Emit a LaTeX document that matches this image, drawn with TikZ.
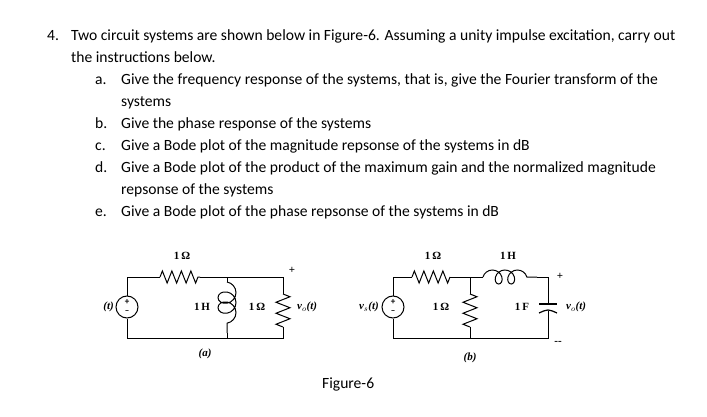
\documentclass[tikz,border=0pt]{standalone}
\usepackage{fontspec}
\setmainfont{Carlito}
\newfontfamily\cktfont{Liberation Serif}
\usetikzlibrary{decorations.pathmorphing}
\begin{document}
\begin{tikzpicture}[x=1pt,y=-1pt,
  txt/.style={anchor=base west,inner sep=0pt,font=\fontsize{15.6}{18}\selectfont},
  lbl/.style={inner sep=0pt,font=\cktfont\bfseries\fontsize{11}{12}\selectfont},
  sgn/.style={inner sep=0pt,font=\bfseries\fontsize{9}{9}\selectfont},
  wire/.style={line width=1pt},
  res/.style={wire,decorate,decoration={zigzag,segment length=9.5pt,amplitude=6pt}},
  resv/.style={wire,decorate,decoration={zigzag,segment length=11pt,amplitude=7pt}},
  inda/.style={wire,decorate,decoration={coil,aspect=0.9,segment length=10pt,amplitude=9pt}},
  indb/.style={wire,decorate,decoration={coil,aspect=0.9,segment length=12.5pt,amplitude=7pt}},
  src/.style={circle,draw,line width=1pt,minimum size=22pt,inner sep=0pt}]
\useasboundingbox (0,0) rectangle (707,417);
% text
\node[txt] (n4) at (47,41) {4.};
\node[txt] (l1) at (71,41) {Two circuit systems are shown below in Figure-6. Assuming a unity impulse excitation, carry out};
\node[txt] (l2) at (71,63) {the instructions below.};
\node[txt] (ia) at (95,85) {a.};
\node[txt] (ta) at (121,85) {Give the frequency response of the systems, that is, give the Fourier transform of the};
\node[txt] (ta2) at (121,107) {systems};
\node[txt] (ib) at (95,129) {b.};
\node[txt] (tb) at (121,129) {Give the phase response of the systems};
\node[txt] (ic) at (95,150) {c.};
\node[txt] (tc) at (121,150) {Give a Bode plot of the magnitude repsonse of the systems in dB};
\node[txt] (id) at (95,172) {d.};
\node[txt] (td) at (121,172) {Give a Bode plot of the product of the maximum gain and the normalized magnitude};
\node[txt] (td2) at (121,194) {repsonse of the systems};
\node[txt] (ie) at (95,216) {e.};
\node[txt] (te) at (121,216) {Give a Bode plot of the phase repsonse of the systems in dB};
\node[txt] (fig) at (322,388) {Figure-6};
% circuit (a)
\coordinate (aTL) at (127,277); \coordinate (aBL) at (127,338);
\coordinate (aR1) at (160,277); \coordinate (aR2) at (200,277);
\coordinate (aJ) at (227,277); \coordinate (aJB) at (227,338);
\coordinate (aTR) at (283,277); \coordinate (aBR) at (283,338);
\node[src] (sa) at (127,307) {};
\node[sgn] (sap) at (127,302) {+};
\node[sgn] (sam) at (127,312) {–};
\draw[wire] (sa) -- (aTL) -- (aR1);
\draw[res] (aR1) -- (aR2);
\draw[wire] (aR2) -- (aTR) -- (283,294);
\draw[resv] (283,294) -- (283,327);
\draw[wire] (283,327) -- (aBR) -- (aBL) -- (sa);
\draw[wire] (aJ) -- (227,282);
\draw[inda] (227,282) -- (227,333);
\draw[wire] (227,333) -- (aJB);
\node[lbl] (a1) at (182,256) {1\,Ω};
\node[lbl] (a2) at (202,307) {1\,H};
\node[lbl] (a3) at (257,307) {1\,Ω};
\node[lbl] (a4) at (292,270) {+};
\node[lbl,anchor=west] (a5) at (297,307) {\itshape v$_o$(t)};
\node[lbl,anchor=east] (a6) at (114,307) {\itshape(t)};
\node[lbl] (a7) at (205,354) {\itshape(a)};
% circuit (b)
\coordinate (bTL) at (393,277); \coordinate (bBL) at (393,338);
\coordinate (bR1) at (412,277); \coordinate (bR2) at (450,277);
\coordinate (bJ) at (470,277); \coordinate (bJB) at (470,338);
\coordinate (bL1) at (483,277); \coordinate (bL2) at (537,277);
\coordinate (bTR) at (548,277); \coordinate (bBR) at (548,338);
\node[src] (sb) at (393,307) {};
\node[sgn] (sbp) at (393,302) {+};
\node[sgn] (sbm) at (393,312) {–};
\draw[wire] (sb) -- (bTL) -- (bR1);
\draw[res] (bR1) -- (bR2);
\draw[wire] (bR2) -- (bL1);
\draw[indb] (bL1) -- (bL2);
\draw[wire] (bL2) -- (bTR) -- (548,304);
\draw[line width=1.2pt] (539,304) -- (557,304);
\draw[line width=1.2pt] (539,313) .. controls (548,309) .. (557,313);
\draw[wire] (548,311) -- (bBR) -- (bBL) -- (sb);
\draw[wire] (bJ) -- (470,294);
\draw[resv] (470,294) -- (470,327);
\draw[wire] (470,327) -- (bJB);
\node[lbl] (b1) at (433,256) {1\,Ω};
\node[lbl] (b2) at (508,256) {1\,H};
\node[lbl] (b3) at (441,307) {1\,Ω};
\node[lbl] (b4) at (522,307) {1\,F};
\node[lbl] (b5) at (560,276) {+};
\node[lbl] (b6) at (558,343) {--};
\node[lbl,anchor=west] (b7) at (566,307) {\itshape v$_o$(t)};
\node[lbl,anchor=east] (b8) at (379,307) {\itshape v$_s$(t)};
\node[lbl] (b9) at (470,358) {\itshape(b)};
\end{tikzpicture}
\end{document}
